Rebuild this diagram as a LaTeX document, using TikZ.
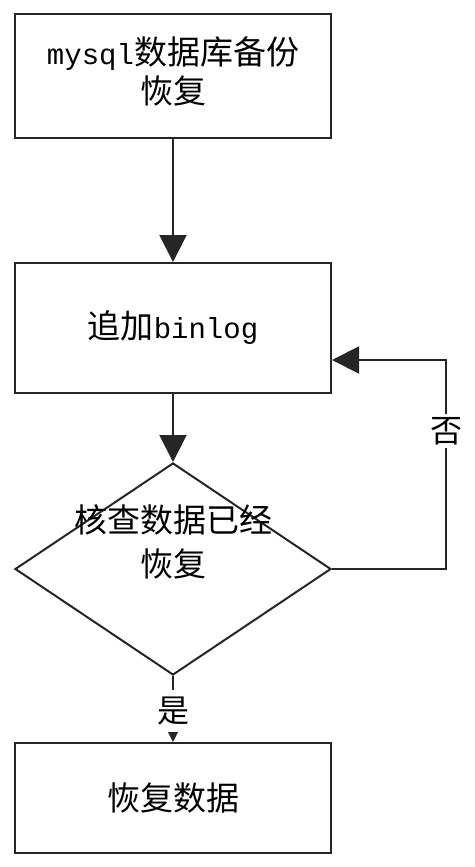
\documentclass[tikz,border=0pt]{standalone}
\usepackage{fontspec}
\setmainfont{Noto Sans CJK SC}
\newfontfamily\lmono{Liberation Mono}
\usetikzlibrary{arrows.meta,shapes.geometric}
\newcommand\asc[1]{{\lmono\fontsize{29}{38}\selectfont #1}}
\tikzset{
  ln/.style={line width=2pt, draw=black!85},
  arr/.style={ln, -{Triangle[length=27pt,width=27pt]}},
  stepbox/.style={ln, rectangle, minimum width=316pt, minimum height=#1, inner sep=0pt, font=\fontsize{33}{38}\selectfont},
  decide/.style={ln, diamond, minimum width=316pt, minimum height=212pt, inner sep=0pt, font=\fontsize{33}{44}\selectfont},
  lab/.style={fill=white, inner sep=0pt, font=\fontsize{32}{36}\selectfont}
}
\begin{document}
\begin{tikzpicture}[x=1pt,y=-1pt]
\useasboundingbox (0,0) rectangle (474,867);
\node[stepbox=124pt] (b1) at (173,76) {\raisebox{-5pt}{\begin{tabular}{@{}c@{}}\asc{mysql}数据库备份\\恢复\end{tabular}}};
\node[stepbox=130pt] (b2) at (173,328) {\raisebox{-4pt}{追加\asc{binlog}}};
\node[decide] (d) at (173,569) {\raisebox{17pt}[0pt][0pt]{\makebox[0pt]{\begin{tabular}{@{}c@{}}核查数据已经\\恢复\end{tabular}}}};
\node[stepbox=110pt] (b3) at (173,798) {\raisebox{-10pt}{恢复数据}};
\coordinate (c1) at (446,360);
\draw[arr] (b1.south) -- (b2.north);
\draw[arr] (b2.south) -- (d.north);
\draw[arr] (d.east) -| node[lab, pos=0.83, minimum height=34pt] (no) {否} (c1) -- (b2.east |- c1);
\draw[arr] (d.south) -- node[lab, pos=0.53, minimum width=32pt, minimum height=42pt] (yes) {是} (b3.north);
\end{tikzpicture}
\end{document}
